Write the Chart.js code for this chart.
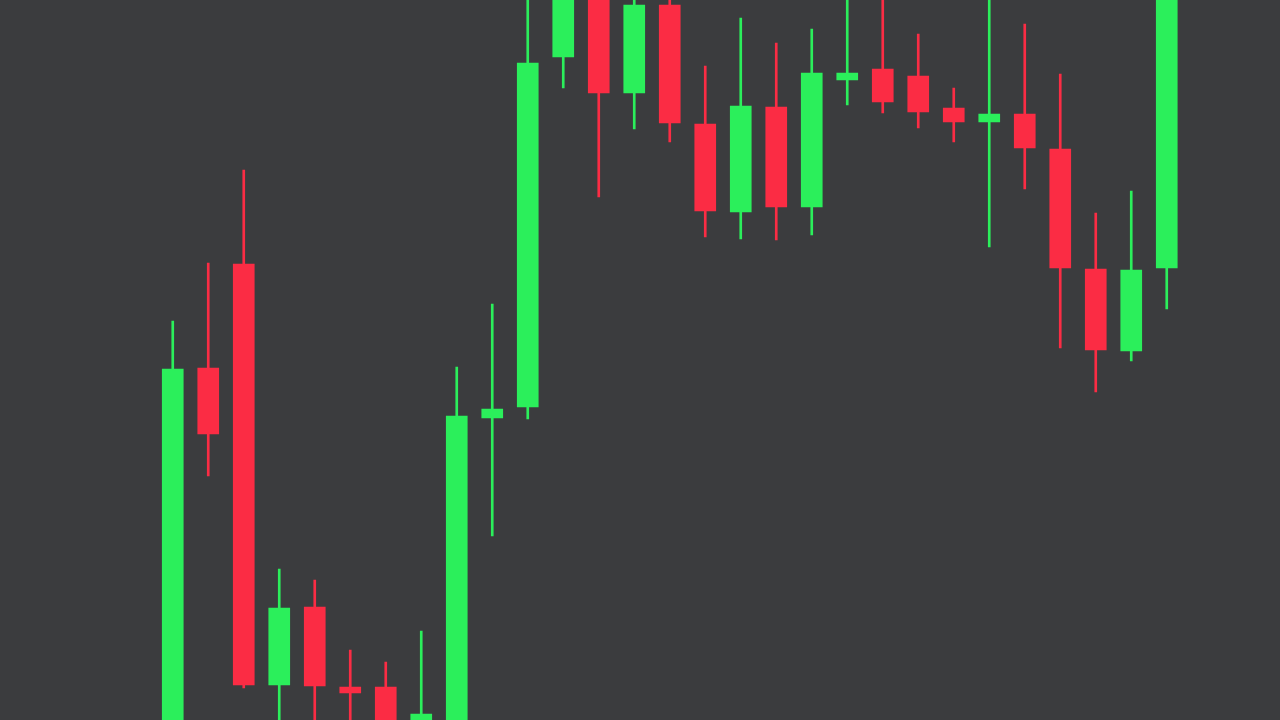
<!DOCTYPE html>
<html>
<head>
<meta charset="utf-8">
<title>Candles</title>
<script src="https://cdn.jsdelivr.net/npm/chart.js@4.4.1/dist/chart.umd.min.js"></script>
<style>
  html, body { margin: 0; padding: 0; background: #3b3c3e; }
  #wrap { width: 1280px; height: 720px; position: relative; }
</style>
</head>
<body>
<div id="wrap"><canvas id="chart"></canvas></div>
<script>
// one entry per candle, left to right (price units, visible range 0..720)
const candles = ['1', '2', '3', '4', '5', '6', '7', '8', '9', '10', '11', '12', '13', '14', '15',
  '16', '17', '18', '19', '20', '21', '22', '23', '24', '25', '26', '27', '28', '29'];
const opens  = [-40, 352, 456,  35, 113,  33,  33, -20, -40, 302, 313, 663, 740, 627, 715,
  596, 508, 613, 513, 640, 651, 644, 612, 598, 606, 571, 451, 369, 452];
const highs  = [399, 457, 550, 151, 140,  70,  58,  89, 353, 416, 750, 760, 760, 735, 740,
  654, 702, 677, 691, 740, 740, 686, 632, 740, 696, 646, 507, 529, 760];
const lows   = [-80, 244,  32, -40, -40, -40, -60, -40, -60, 184, 301, 632, 523, 591, 578,
  483, 481, 480, 485, 615, 607, 592, 578, 473, 531, 372, 328, 359, 411];
const closes = [351, 286,  35, 112,  34,  27, -20,   6, 304, 311, 657, 740, 627, 715, 597,
  509, 614, 513, 647, 647, 618, 608, 598, 606, 572, 452, 370, 450, 740];

const UP = '#2bef5b';
const DOWN = '#fb2c44';

document.addEventListener('DOMContentLoaded', () => {
  const colors = closes.map((c, i) => c >= opens[i] ? UP : DOWN);

  const ctx = document.getElementById('chart').getContext('2d');
  new Chart(ctx, {
    type: 'bar',
    data: {
      labels: candles,
      datasets: [
        {
          label: 'body',
          data: opens.map((o, i) => [o, closes[i]]),
          backgroundColor: colors,
          barThickness: 21,
          grouped: false,
          borderWidth: 0
        },
        {
          label: 'wick',
          data: lows.map((l, i) => [l, highs[i]]),
          backgroundColor: colors,
          barThickness: 2,
          grouped: false,
          borderWidth: 0
        }
      ]
    },
    options: {
      responsive: true,
      maintainAspectRatio: false,
      animation: false,
      layout: { padding: { left: 155, right: 95.5, top: 0, bottom: 0 } },
      plugins: {
        legend: { display: false },
        tooltip: { enabled: false }
      },
      scales: {
        x: { display: false, offset: true },
        y: { display: false, min: 0, max: 720 }
      }
    }
  });
});
</script>
</body>
</html>
